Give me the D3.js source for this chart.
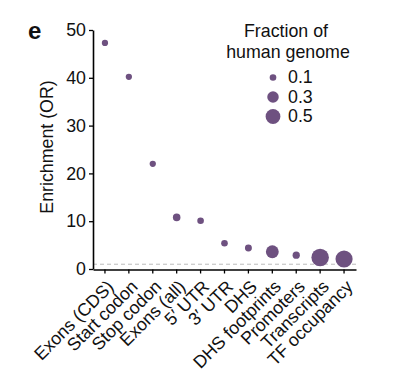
<!DOCTYPE html>
<html><head><meta charset="utf-8">
<script src="https://cdn.jsdelivr.net/npm/d3@7"></script>
<style>body{margin:0;background:#fff}svg text{font-family:"Liberation Sans",Arial,Helvetica,sans-serif;fill:#111}</style>
</head><body>
<svg id="c" width="395" height="386"></svg>
<script>
const categories = ["Exons (CDS)","Start codon","Stop codon","Exons (all)","5\u2032 UTR","3\u2032 UTR","DHS","DHS footprints","Promoters","Transcripts","TF occupancy"];
const enrichment = [47.3, 40.2, 22.0, 10.8, 10.1, 5.4, 4.4, 3.6, 2.9, 2.4, 2.1];
const genomeFraction = [0.09, 0.09, 0.09, 0.13, 0.1, 0.1, 0.11, 0.38, 0.12, 0.7, 0.67];
const yTicks = [0, 10, 20, 30, 40, 50];
const legendValues = [0.1, 0.3, 0.5];

const svg = d3.select("#c");
const color = "#6e5180";
const FS = 17.8;
const x = d3.scaleBand().domain(categories).range([93, 356]);
const y = d3.scaleLinear().domain([0, 50]).range([269, 30]);
const r = d3.scaleSqrt().domain([0, 0.5]).range([0, 7.4]);

// reference line at OR = 1
svg.append("line").attr("x1", 93).attr("x2", 356).attr("y1", y(1)).attr("y2", y(1))
  .attr("stroke", "#bbb").attr("stroke-width", 1).attr("stroke-dasharray", "4,3");

// y axis
const ya = svg.append("g").attr("transform", "translate(93,0)")
  .call(d3.axisLeft(y).tickValues(yTicks).tickSize(4).tickPadding(3).tickSizeOuter(0));
ya.select(".domain").attr("stroke-width", 1.6).attr("stroke", "#000");
ya.selectAll(".tick line").attr("stroke-width", 1.3).attr("stroke", "#000");
ya.selectAll(".tick text").attr("font-size", FS).style("font-family", "'Liberation Sans',Arial,sans-serif").attr("fill", "#111");

// x axis
const xa = svg.append("g").attr("transform", "translate(0,269.5)")
  .call(d3.axisBottom(x).tickSize(4).tickSizeOuter(0).tickFormat(""));
xa.select(".domain").attr("stroke-width", 1.6).attr("stroke", "#000");
xa.selectAll(".tick line").attr("stroke-width", 1.3).attr("stroke", "#000");

// x labels rotated
svg.append("g").selectAll("text").data(categories).join("text")
  .attr("transform", d => `translate(${x(d) + x.bandwidth() / 2 + 1},${279}) rotate(-45)`)
  .attr("text-anchor", "end").attr("dy", "0.7em").attr("font-size", FS).text(d => d);

// y label
svg.append("text").attr("transform", "translate(53,147) rotate(-90)")
  .attr("text-anchor", "middle").attr("font-size", FS).text("Enrichment (OR)");

// panel label
svg.append("text").attr("x", 28).attr("y", 39).attr("font-size", 24).attr("font-weight", "bold").text("e");

// points
svg.append("g").selectAll("circle").data(categories).join("circle")
  .attr("cx", d => x(d) + x.bandwidth() / 2)
  .attr("cy", (d, i) => y(enrichment[i]))
  .attr("r", (d, i) => r(genomeFraction[i]))
  .attr("fill", color);

// legend
const lg = svg.append("g");
lg.append("text").attr("x", 286).attr("y", 37).attr("text-anchor", "middle").attr("font-size", FS).text("Fraction of");
lg.append("text").attr("x", 288).attr("y", 58).attr("text-anchor", "middle").attr("font-size", FS).text("human genome");
legendValues.forEach((v, i) => {
  const cy = 77.5 + i * 19.5;
  lg.append("circle").attr("cx", 273).attr("cy", cy).attr("r", r(v)).attr("fill", color);
  lg.append("text").attr("x", 288).attr("y", cy + 5.8).attr("font-size", FS).text(v.toFixed(1));
});
</script>
</body></html>
